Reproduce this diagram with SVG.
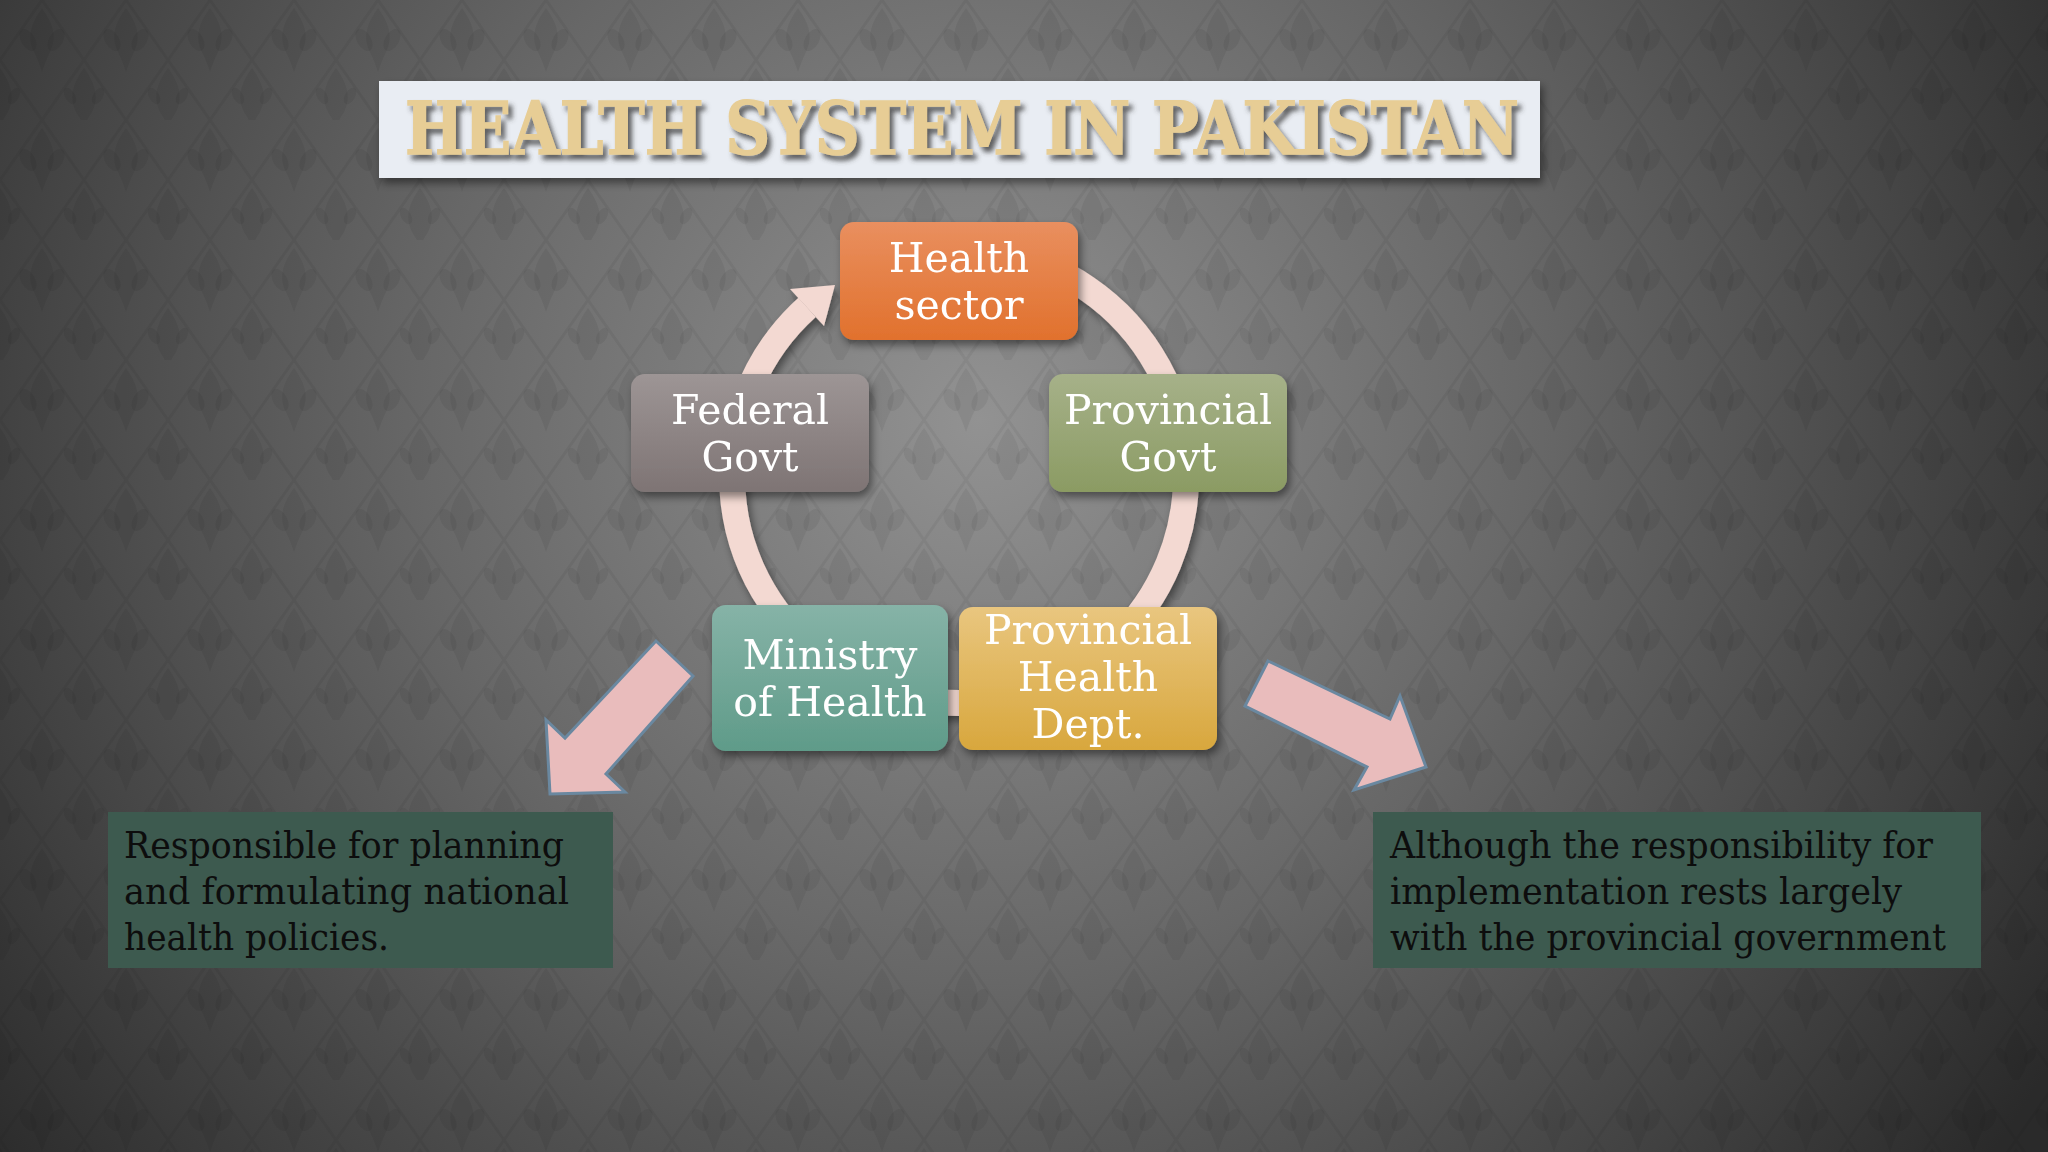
<svg xmlns="http://www.w3.org/2000/svg" width="2048" height="1152" viewBox="0 0 2048 1152">
  <defs>
    <radialGradient id="bg" cx="980" cy="420" r="1250" gradientUnits="userSpaceOnUse">
      <stop offset="0" stop-color="#929292"/>
      <stop offset="0.45" stop-color="#676767"/>
      <stop offset="1" stop-color="#2a2a2a"/>
    </radialGradient>
    <pattern id="damask" x="0" y="0" width="84" height="120" patternUnits="userSpaceOnUse">
      <g fill="#000" fill-opacity="0.06">
        <path d="M42 8 C52 22 58 36 50 52 C46 60 44 66 42 72 C40 66 38 60 34 52 C26 36 32 22 42 8 Z"/>
        <ellipse cx="28" cy="40" rx="7" ry="12" transform="rotate(-30 28 40)"/>
        <ellipse cx="56" cy="40" rx="7" ry="12" transform="rotate(30 56 40)"/>
        <path d="M0 68 C10 82 16 96 8 112 C4 118 2 122 0 128 C-2 122 -4 118 -8 112 C-16 96 -10 82 0 68 Z"/>
        <path d="M84 68 C94 82 100 96 92 112 C88 118 86 122 84 128 C82 122 80 118 76 112 C68 96 74 82 84 68 Z"/>
        <ellipse cx="14" cy="96" rx="5" ry="9" transform="rotate(30 14 96)"/>
        <ellipse cx="70" cy="96" rx="5" ry="9" transform="rotate(-30 70 96)"/>
      </g>
      <g fill="none" stroke="#000" stroke-opacity="0.05" stroke-width="3">
        <path d="M42 0 L84 60 L42 120 L0 60 Z"/>
      </g>
    </pattern>
    <linearGradient id="gHealth" x1="0" y1="0" x2="0" y2="1">
      <stop offset="0" stop-color="#e98f5f"/>
      <stop offset="1" stop-color="#e1712d"/>
    </linearGradient>
    <linearGradient id="gFed" x1="0" y1="0" x2="0" y2="1">
      <stop offset="0" stop-color="#9d9595"/>
      <stop offset="1" stop-color="#7e7474"/>
    </linearGradient>
    <linearGradient id="gProv" x1="0" y1="0" x2="0" y2="1">
      <stop offset="0" stop-color="#a6b189"/>
      <stop offset="1" stop-color="#8b9b63"/>
    </linearGradient>
    <linearGradient id="gMin" x1="0" y1="0" x2="0" y2="1">
      <stop offset="0" stop-color="#86b3a7"/>
      <stop offset="1" stop-color="#5f9b89"/>
    </linearGradient>
    <linearGradient id="gPHD" x1="0" y1="0" x2="0" y2="1">
      <stop offset="0" stop-color="#e9c67f"/>
      <stop offset="1" stop-color="#d8a73d"/>
    </linearGradient>
    <filter id="shadow" x="-20%" y="-20%" width="140%" height="150%">
      <feDropShadow dx="3" dy="5" stdDeviation="4" flood-color="#000" flood-opacity="0.45"/>
    </filter>
    <filter id="tshadow" x="-5%" y="-20%" width="110%" height="150%">
      <feDropShadow dx="4" dy="5" stdDeviation="2.5" flood-color="#3a3a3a" flood-opacity="0.8"/>
    </filter>
    <style>
      .node-text { font-family: "DejaVu Serif", "Liberation Serif", serif; font-size: 41px; fill: #ffffff; text-anchor: middle; }
      .note-text { font-family: "DejaVu Serif", "Liberation Serif", serif; font-size: 37px; fill: #0d0d0d; }
      .note-box { fill: #3d5a4f; }
      .pink-arrow { fill: #e9bcbc; stroke: #6a88a0; stroke-width: 3; stroke-linejoin: miter; }
      .cycle { fill: none; stroke: #f3d9d2; stroke-width: 26; }
    </style>
  </defs>

  <!-- background -->
  <rect width="2048" height="1152" fill="url(#bg)"/>
  <rect width="2048" height="1152" fill="url(#damask)"/>

  <!-- title -->
  <g id="title">
    <rect x="379" y="81" width="1161" height="97" fill="#e9edf3" filter="url(#shadow)"/>
    <text x="405" y="154" textLength="1114" lengthAdjust="spacingAndGlyphs" font-family="DejaVu Serif, Liberation Serif, serif" font-weight="bold" font-size="72" fill="#e7cd95" stroke="#e7cd95" stroke-width="1.5" filter="url(#tshadow)">HEALTH SYSTEM IN PAKISTAN</text>
  </g>

  <!-- connectors -->
  <g id="connectors">
    <g filter="url(#shadow)">
      <path class="cycle" d="M 998.4 252.4 A 227 227 0 1 1 807.1 307.3"/>
      <polygon points="790,289 835,285 824,326" fill="#f3d9d2"/>
    </g>
    <polygon class="pink-arrow" points="656,641 693,676 606,774 625,792 550,794 546,720 565,738"/>
    <polygon class="pink-arrow" points="1268,661 1390,719 1400,696 1426,767 1354,790 1367,767 1245,706"/>
  </g>

  <!-- nodes -->
  <g id="node-health-sector" filter="url(#shadow)">
    <rect x="840" y="222" width="238" height="118" rx="14" fill="url(#gHealth)"/>
    <text class="node-text" x="959" y="272">Health</text>
    <text class="node-text" x="959" y="319">sector</text>
  </g>
  <g id="node-federal-govt" filter="url(#shadow)">
    <rect x="631" y="374" width="238" height="118" rx="14" fill="url(#gFed)"/>
    <text class="node-text" x="750" y="424">Federal</text>
    <text class="node-text" x="750" y="471">Govt</text>
  </g>
  <g id="node-provincial-govt" filter="url(#shadow)">
    <rect x="1049" y="374" width="238" height="118" rx="14" fill="url(#gProv)"/>
    <text class="node-text" x="1168" y="424">Provincial</text>
    <text class="node-text" x="1168" y="471">Govt</text>
  </g>
  <g id="node-ministry-of-health" filter="url(#shadow)">
    <rect x="712" y="605" width="236" height="146" rx="14" fill="url(#gMin)"/>
    <text class="node-text" x="830" y="669">Ministry</text>
    <text class="node-text" x="830" y="716">of Health</text>
  </g>
  <g id="node-provincial-health-dept" filter="url(#shadow)">
    <rect x="959" y="607" width="258" height="143" rx="14" fill="url(#gPHD)"/>
    <text class="node-text" x="1088" y="644">Provincial</text>
    <text class="node-text" x="1088" y="691">Health</text>
    <text class="node-text" x="1088" y="738">Dept.</text>
  </g>

  <!-- notes -->
  <g id="note-federal">
    <rect class="note-box" x="108" y="812" width="505" height="156"/>
    <text class="note-text" x="124" y="858" textLength="440" lengthAdjust="spacingAndGlyphs">Responsible for planning</text>
    <text class="note-text" x="124" y="904" textLength="445" lengthAdjust="spacingAndGlyphs">and formulating national</text>
    <text class="note-text" x="124" y="950" textLength="265" lengthAdjust="spacingAndGlyphs">health policies.</text>
  </g>
  <g id="note-provincial">
    <rect class="note-box" x="1373" y="812" width="608" height="156"/>
    <text class="note-text" x="1390" y="858" textLength="543" lengthAdjust="spacingAndGlyphs">Although the responsibility for</text>
    <text class="note-text" x="1390" y="904" textLength="512" lengthAdjust="spacingAndGlyphs">implementation rests largely</text>
    <text class="note-text" x="1390" y="950" textLength="556" lengthAdjust="spacingAndGlyphs">with the provincial government</text>
  </g>
</svg>
